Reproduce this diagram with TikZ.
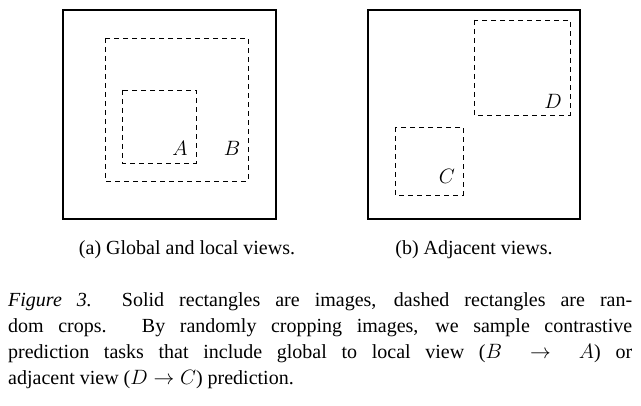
\documentclass[tikz,border=0pt]{standalone}
\usepackage{fontspec}
\setmainfont{Liberation Serif}
\begin{document}
\begin{tikzpicture}[x=1pt,y=-1pt,
  solid box/.style={draw,line width=1.6pt},
  crop/.style={draw,line width=0.9pt,dash pattern=on 5pt off 4pt},
  lab/.style={font=\fontsize{22}{22}\selectfont\itshape,inner sep=0pt},
  subcap/.style={font=\fontsize{20}{24}\selectfont,inner sep=0pt},
  capline/.style={font=\fontsize{20}{24}\selectfont,inner sep=0pt,anchor=base west}]
\useasboundingbox (0,0) rectangle (641,406);
\draw[solid box] (63,10) rectangle (276,219);
\draw[crop] (105,38) rectangle (248,181);
\draw[crop] (122,90) rectangle (196,163);
\node[lab] (A) at (180,148) {$A$};
\node[lab] (B) at (232,148) {$B$};
\draw[solid box] (368,10) rectangle (580,219);
\draw[crop] (474,20) rectangle (570,115);
\draw[crop] (395,127) rectangle (463,195);
\node[lab] (D) at (553,101) {$D$};
\node[lab] (C) at (447,176) {$C$};
\node[subcap] (sa) at (187,250) {(a) Global and local views.};
\node[subcap] (sb) at (474,250) {(b) Adjacent views.};
\node[capline] (l1) at (8,307) {\hbox to 624pt{\textit{Figure 3.}\ \ Solid rectangles are images, dashed rectangles are ran-}};
\node[capline] (l2) at (8,333) {\hbox to 624pt{dom crops. By randomly cropping images, we sample contrastive}};
\node[capline] (l3) at (8,359) {\hbox to 624pt{prediction tasks that include global to local view ($B\rightarrow A$) or}};
\node[capline] (l4) at (8,385) {adjacent view ($D\rightarrow C$) prediction.};
\end{tikzpicture}
\end{document}
